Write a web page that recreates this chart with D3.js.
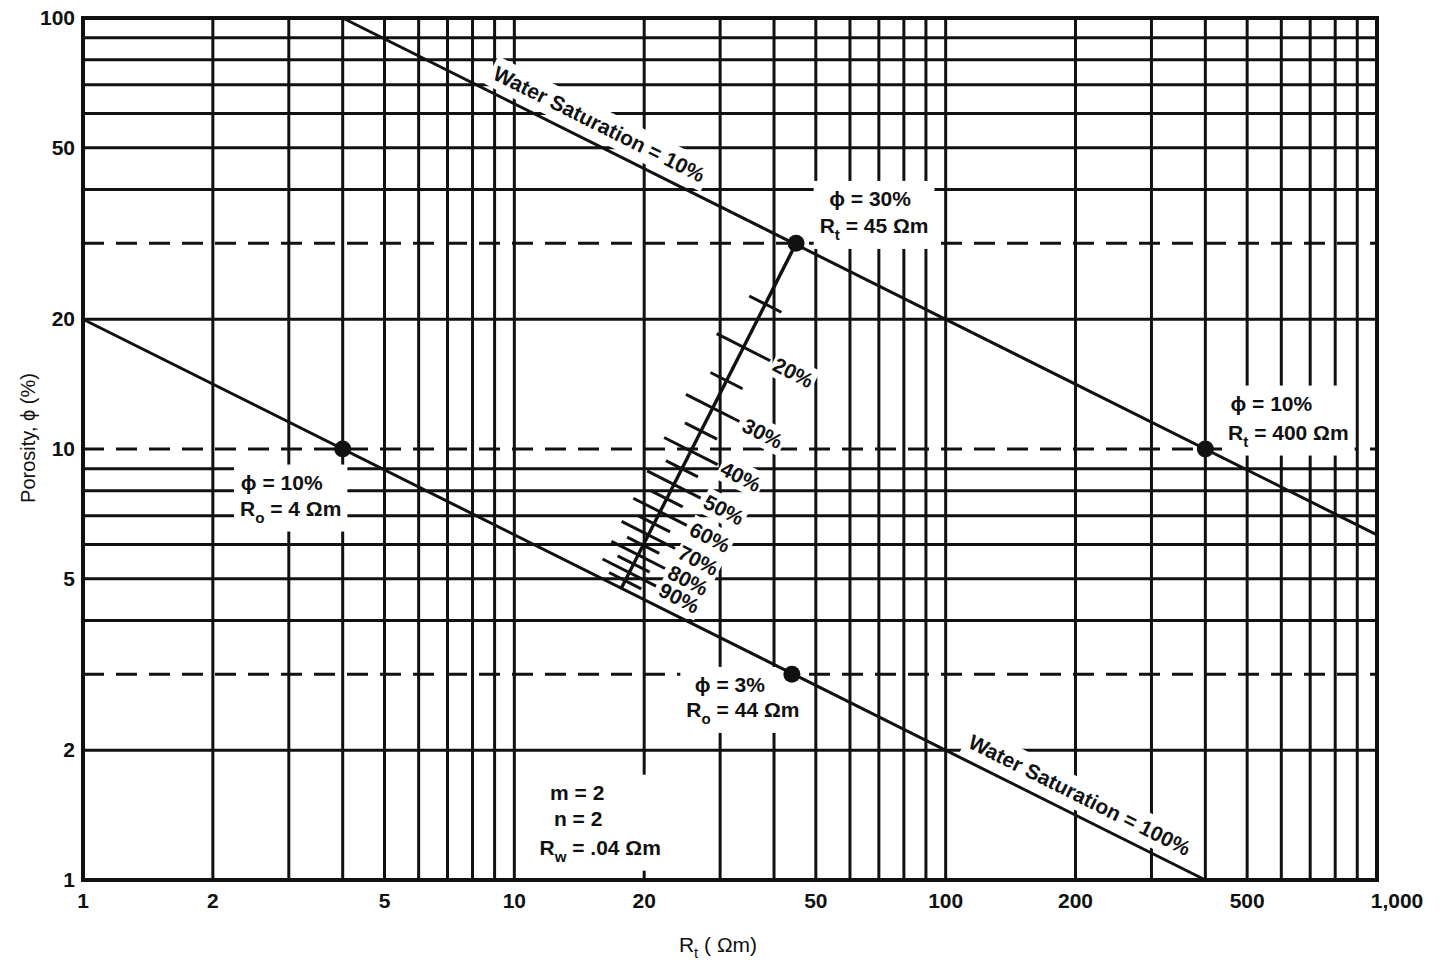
<!DOCTYPE html>
<html>
<head>
<meta charset="utf-8">
<script src="https://cdn.jsdelivr.net/npm/d3@7"></script>
<style>
  body { margin: 0; background: #fff; }
  text { font-family: "Liberation Sans", Arial, sans-serif; fill: #111; }
</style>
</head>
<body>
<div id="chart"></div>
<script>
// ---- data ----
const xTickValues = [1, 2, 5, 10, 20, 50, 100, 200, 500, 1000];
const xTickLabels = ["1", "2", "5", "10", "20", "50", "100", "200", "500", "1,000"];
const yTickValues = [1, 2, 5, 10, 20, 50, 100];
const yTickLabels = ["1", "2", "5", "10", "20", "50", "100"];

const dashedPorosity = [30, 10, 3];

// [Rt, porosity %] end points of the two saturation lines
const sw10Line = [[4, 100], [1000, 6.32]];
const sw100Line = [[1, 20], [400, 1]];

// saturation scale drawn between the Sw = 10% point and the Sw = 100% line
const swScaleEnds = [[45, 30], [17.7, 4.75]];
const swMajor = [20, 30, 40, 50, 60, 70, 80, 90];
const swMinor = [15, 25, 35, 45, 55, 65, 75, 85, 95];

const points = [[45, 30], [400, 10], [4, 10], [44, 3]];

// annotation texts: each line is a list of [text, isSubscript]
const notePhi30 = [[["\u03d5 = 30%", false]], [["R", false], ["t", true], [" = 45 \u03a9m", false]]];
const notePhi10Rt = [[["\u03d5 = 10%", false]], [["R", false], ["t", true], [" = 400  \u03a9m", false]]];
const notePhi10Ro = [[["\u03d5 = 10%", false]], [["R", false], ["o", true], [" = 4 \u03a9m", false]]];
const notePhi3 = [[["\u03d5 = 3%", false]], [["R", false], ["o", true], [" = 44  \u03a9m", false]]];
const noteParams = [[["m = 2", false]], [["n = 2", false]], [["R", false], ["w", true], [" = .04 \u03a9m", false]]];

// ---- chart ----
const width = 1440, height = 973;
const margin = { top: 18, right: 63, bottom: 93, left: 83 };
const fontSize = 21;

const x = d3.scaleLog().domain([1, 1000]).range([margin.left, width - margin.right]);
const y = d3.scaleLog().domain([1, 100]).range([height - margin.bottom, margin.top]);

const svg = d3.select("#chart").append("svg")
    .attr("width", width)
    .attr("height", height)
    .style("background", "#fff");

// grid
const grid = svg.append("g").attr("stroke", "#111").attr("stroke-width", 3);

grid.selectAll(".vgrid")
    .data(x.ticks().filter(d => d > 1 && d < 1000))
    .enter().append("line")
    .attr("class", "vgrid")
    .attr("x1", d => x(d)).attr("x2", d => x(d))
    .attr("y1", y(100)).attr("y2", y(1));

grid.selectAll(".hgrid")
    .data(y.ticks().filter(d => d > 1 && d < 100 && !dashedPorosity.includes(d)))
    .enter().append("line")
    .attr("class", "hgrid")
    .attr("x1", x(1)).attr("x2", x(1000))
    .attr("y1", d => y(d)).attr("y2", d => y(d));

grid.selectAll(".dashed")
    .data(dashedPorosity)
    .enter().append("line")
    .attr("class", "dashed")
    .attr("x1", x(1)).attr("x2", x(1000))
    .attr("y1", d => y(d)).attr("y2", d => y(d))
    .attr("stroke-dasharray", "21,12");

// white boxes go in one layer, their texts in a later one
const boxLayer = svg.append("g");
const markLayer = svg.append("g");
const textLayer = svg.append("g");

// text with subscripts
function writeLine(g, px, py, parts, anchor, size) {
    const t = g.append("text")
        .attr("x", px)
        .attr("y", py + size * 0.36)
        .attr("text-anchor", anchor)
        .attr("font-size", size)
        .attr("font-weight", "bold");
    let shifted = false;
    parts.forEach(p => {
        const s = t.append("tspan").text(p[0]);
        if (p[1] && !shifted) { s.attr("dy", 7); shifted = true; }
        else if (!p[1] && shifted) { s.attr("dy", -7); shifted = false; }
        if (p[1]) s.attr("font-size", size * 0.72);
    });
    return t;
}

function boxedGroup(transform, pad) {
    const bg = boxLayer.append("g").attr("transform", transform)
        .append("rect").attr("fill", "#fff");
    const g = textLayer.append("g").attr("transform", transform);
    return {
        g: g,
        fit: function () {
            let x0 = Infinity, y0 = Infinity, x1 = -Infinity, y1 = -Infinity;
            g.selectAll("text").each(function () {
                const b = this.getBBox();
                x0 = Math.min(x0, b.x); y0 = Math.min(y0, b.y);
                x1 = Math.max(x1, b.x + b.width); y1 = Math.max(y1, b.y + b.height);
            });
            bg.attr("x", x0 - pad).attr("y", y0 - pad)
                .attr("width", x1 - x0 + 2 * pad).attr("height", y1 - y0 + 2 * pad);
        }
    };
}

// annotations near the points; offsets in px from an anchor point
function note(anchorX, anchorY, lines, offsets) {
    const b = boxedGroup("translate(" + anchorX + "," + anchorY + ")", 6);
    lines.forEach((l, i) => writeLine(b.g, offsets[i][0], offsets[i][1], l, "middle", fontSize));
    b.fit();
}

note(x(45), y(30), notePhi30, [[74, -45], [78, -18]]);
note(x(400), y(10), notePhi10Rt, [[66, -46], [83, -17]]);
note(x(4), y(10), notePhi10Ro, [[-61, 33], [-52, 59]]);
note(x(44), y(3), notePhi3, [[-62, 10], [-49, 35]]);
note(x(20), y(1.5), noteParams, [[-67, -12], [-66, 14], [-44, 43]]);

// labels along the saturation lines
function lineAt(line, rt, offset, label) {
    const x0 = x(line[0][0]), y0 = y(line[0][1]), x1 = x(line[1][0]), y1 = y(line[1][1]);
    const along = d3.scaleLinear().domain([x0, x1]).range([y0, y1]);
    const a = Math.atan2(y1 - y0, x1 - x0);
    const px = x(rt), py = along(px);
    const cx = px + Math.sin(a) * offset, cy = py - Math.cos(a) * offset;
    const b = boxedGroup("translate(" + cx + "," + cy + ") rotate(" + (a * 180 / Math.PI) + ")", 4);
    writeLine(b.g, 0, 0, [[label, false]], "middle", fontSize);
    b.fit();
}
lineAt(sw10Line, 15, 20, "Water Saturation = 10%");
lineAt(sw100Line, 195, 20, "Water Saturation = 100%");

// saturation scale
const sx0 = x(swScaleEnds[0][0]), sy0 = y(swScaleEnds[0][1]);
const sx1 = x(swScaleEnds[1][0]), sy1 = y(swScaleEnds[1][1]);
const swPos = d3.scaleLog().domain([10, 100]).range([0, 1]);
const len = Math.hypot(sx1 - sx0, sy1 - sy0);
const ux = (sx1 - sx0) / len, uy = (sy1 - sy0) / len;
const tx = uy, ty = -ux;            // tick direction, pointing down to the right
const tickAngle = Math.atan2(ty, tx) * 180 / Math.PI;
const atSw = s => [sx0 + (sx1 - sx0) * swPos(s), sy0 + (sy1 - sy0) * swPos(s)];

swMajor.forEach(s => {
    const p = atSw(s);
    const ex = p[0] + tx * 30, ey = p[1] + ty * 30;
    const b = boxedGroup("translate(" + (ex + tx * 5) + "," + (ey + ty * 5) + ") rotate(" + tickAngle + ")", 2);
    writeLine(b.g, 0, 0, [[s + "%", false]], "start", fontSize);
    b.fit();
});

const scale = markLayer.append("g").attr("stroke", "#111").attr("stroke-width", 3);
scale.append("line")
    .attr("x1", sx0).attr("y1", sy0).attr("x2", sx1).attr("y2", sy1)
    .attr("stroke-width", 3.4);
scale.selectAll(".major")
    .data(swMajor)
    .enter().append("line")
    .attr("x1", d => atSw(d)[0] - tx * 30).attr("y1", d => atSw(d)[1] - ty * 30)
    .attr("x2", d => atSw(d)[0] + tx * 30).attr("y2", d => atSw(d)[1] + ty * 30);
scale.selectAll(".minor")
    .data(swMinor)
    .enter().append("line")
    .attr("x1", d => atSw(d)[0] - tx * 18).attr("y1", d => atSw(d)[1] - ty * 18)
    .attr("x2", d => atSw(d)[0] + tx * 18).attr("y2", d => atSw(d)[1] + ty * 18);

// saturation lines
const lineGen = d3.line().x(d => x(d[0])).y(d => y(d[1]));
markLayer.selectAll(".swline")
    .data([sw10Line, sw100Line])
    .enter().append("path")
    .attr("class", "swline")
    .attr("d", lineGen)
    .attr("fill", "none")
    .attr("stroke", "#111")
    .attr("stroke-width", 3);

// points
markLayer.selectAll(".pt")
    .data(points)
    .enter().append("circle")
    .attr("class", "pt")
    .attr("cx", d => x(d[0]))
    .attr("cy", d => y(d[1]))
    .attr("r", 8.5)
    .attr("fill", "#111");

// frame
svg.append("rect")
    .attr("x", x(1)).attr("y", y(100))
    .attr("width", x(1000) - x(1)).attr("height", y(1) - y(100))
    .attr("fill", "none")
    .attr("stroke", "#111")
    .attr("stroke-width", 4);

// tick labels
svg.selectAll(".xlab")
    .data(xTickValues)
    .enter().append("text")
    .attr("class", "xlab")
    .attr("x", (d, i) => x(d) + (i === xTickValues.length - 1 ? 20 : 0))
    .attr("y", y(1) + 28)
    .attr("text-anchor", "middle")
    .attr("font-size", fontSize)
    .attr("font-weight", "bold")
    .text((d, i) => xTickLabels[i]);

svg.selectAll(".ylab")
    .data(yTickValues)
    .enter().append("text")
    .attr("class", "ylab")
    .attr("x", x(1) - 8)
    .attr("y", d => y(d) + 7)
    .attr("text-anchor", "end")
    .attr("font-size", fontSize)
    .attr("font-weight", "bold")
    .text((d, i) => yTickLabels[i]);

// axis titles
const xTitle = svg.append("text")
    .attr("x", 718)
    .attr("y", 952)
    .attr("text-anchor", "middle")
    .attr("font-size", 21);
xTitle.append("tspan").text("R");
xTitle.append("tspan").text("t").attr("font-size", 15).attr("dy", 6);
xTitle.append("tspan").text(" ( \u03a9m)").attr("dy", -6);

svg.append("text")
    .attr("transform", "translate(35,438) rotate(-90)")
    .attr("text-anchor", "middle")
    .attr("font-size", 20)
    .text("Porosity, \u03d5 (%)");
</script>
</body>
</html>
